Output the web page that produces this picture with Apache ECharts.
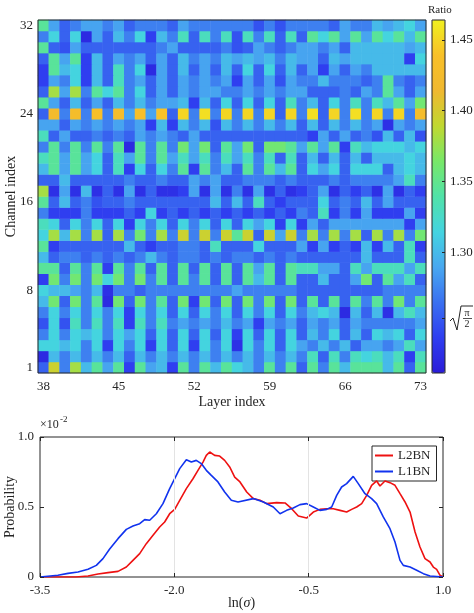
<!DOCTYPE html>
<html><head><meta charset="utf-8">
<script src="https://cdn.jsdelivr.net/npm/echarts@6/dist/echarts.min.js"></script>
<style>html,body{margin:0;padding:0;background:#fff}#c{width:474px;height:613px}</style>
</head><body><div id="c"></div>
<script>
// ---------- heatmap data ----------
const layers = ['38','39','40','41','42','43','44','45','46','47','48','49','50','51','52','53','54','55','56','57','58','59','60','61','62','63','64','65','66','67','68','69','70','71','72','73'];
const channels = ['1','2','3','4','5','6','7','8','9','10','11','12','13','14','15','16','17','18','19','20','21','22','23','24','25','26','27','28','29','30','31','32'];
const layerTickLabels = ['38','45','52','59','66','73'];
const channelTickLabels = ['1','8','16','24','32'];

const ch32 = [1.345,1.288,1.258,1.272,1.288,1.288,1.272,1.288,1.258,1.272,1.272,1.272,1.258,1.288,1.272,1.272,1.272,1.272,1.272,1.272,1.25,1.272,1.25,1.272,1.272,1.272,1.272,1.258,1.288,1.272,1.272,1.30,1.288,1.30,1.315,1.288];
const ch31 = [1.272,1.315,1.258,1.315,1.225,1.288,1.258,1.30,1.272,1.315,1.24,1.30,1.272,1.33,1.258,1.33,1.272,1.33,1.25,1.33,1.272,1.33,1.258,1.33,1.258,1.345,1.315,1.345,1.288,1.345,1.288,1.345,1.315,1.345,1.30,1.345];
const ch30 = [1.345,1.258,1.25,1.288,1.258,1.258,1.258,1.258,1.258,1.258,1.258,1.272,1.288,1.258,1.258,1.258,1.258,1.272,1.25,1.258,1.288,1.272,1.258,1.272,1.288,1.288,1.272,1.288,1.258,1.30,1.30,1.30,1.30,1.30,1.288,1.30];
const ch29 = [1.258,1.345,1.288,1.345,1.24,1.30,1.258,1.288,1.272,1.288,1.258,1.288,1.258,1.30,1.272,1.288,1.272,1.30,1.288,1.30,1.288,1.30,1.272,1.30,1.288,1.288,1.258,1.30,1.288,1.30,1.30,1.30,1.30,1.30,1.24,1.315];
const ch28 = [1.24,1.345,1.30,1.315,1.24,1.30,1.258,1.33,1.272,1.315,1.225,1.288,1.258,1.30,1.258,1.288,1.258,1.30,1.258,1.315,1.258,1.315,1.258,1.30,1.258,1.288,1.24,1.288,1.258,1.288,1.272,1.30,1.30,1.30,1.30,1.30];
const ch27 = [1.24,1.288,1.272,1.315,1.24,1.30,1.258,1.33,1.272,1.288,1.258,1.288,1.258,1.288,1.272,1.288,1.272,1.288,1.24,1.288,1.258,1.288,1.25,1.288,1.272,1.272,1.30,1.272,1.272,1.272,1.258,1.272,1.345,1.272,1.258,1.272];
const ch26 = [1.258,1.38,1.288,1.38,1.272,1.345,1.315,1.345,1.272,1.315,1.258,1.288,1.258,1.288,1.272,1.288,1.288,1.272,1.272,1.288,1.272,1.288,1.272,1.288,1.288,1.258,1.258,1.258,1.272,1.258,1.288,1.272,1.345,1.288,1.258,1.288];
const ch25 = [1.345,1.288,1.258,1.30,1.258,1.288,1.258,1.30,1.272,1.30,1.272,1.288,1.288,1.30,1.24,1.30,1.258,1.315,1.258,1.315,1.258,1.315,1.258,1.33,1.272,1.30,1.258,1.315,1.272,1.33,1.272,1.33,1.30,1.345,1.288,1.36];
const ch24 = [1.258,1.425,1.272,1.43,1.272,1.435,1.272,1.43,1.288,1.435,1.288,1.44,1.258,1.45,1.272,1.455,1.272,1.45,1.272,1.45,1.272,1.45,1.258,1.45,1.272,1.455,1.258,1.45,1.272,1.455,1.272,1.45,1.272,1.45,1.272,1.43];
const ch23 = [1.288,1.288,1.258,1.288,1.272,1.288,1.272,1.288,1.272,1.288,1.24,1.30,1.24,1.30,1.272,1.30,1.25,1.30,1.272,1.30,1.272,1.30,1.272,1.30,1.258,1.30,1.258,1.30,1.272,1.30,1.272,1.288,1.23,1.288,1.272,1.288];
const ch22 = [1.33,1.258,1.288,1.258,1.258,1.272,1.258,1.272,1.258,1.288,1.272,1.288,1.272,1.258,1.288,1.258,1.258,1.258,1.258,1.258,1.258,1.258,1.258,1.258,1.258,1.24,1.288,1.258,1.288,1.258,1.272,1.25,1.30,1.258,1.30,1.25];
const ch21 = [1.272,1.345,1.272,1.345,1.272,1.345,1.272,1.345,1.225,1.345,1.272,1.345,1.272,1.36,1.288,1.36,1.258,1.345,1.288,1.36,1.258,1.36,1.36,1.345,1.288,1.345,1.288,1.345,1.24,1.33,1.30,1.315,1.315,1.315,1.30,1.315];
const ch20 = [1.33,1.345,1.288,1.345,1.288,1.315,1.258,1.33,1.288,1.345,1.272,1.345,1.288,1.33,1.288,1.33,1.272,1.33,1.288,1.33,1.272,1.33,1.258,1.33,1.258,1.30,1.258,1.30,1.258,1.30,1.258,1.30,1.30,1.30,1.315,1.30];
const ch19 = [1.30,1.345,1.288,1.345,1.288,1.315,1.258,1.33,1.24,1.315,1.258,1.315,1.272,1.345,1.24,1.345,1.272,1.30,1.258,1.345,1.272,1.345,1.30,1.345,1.258,1.315,1.288,1.315,1.258,1.315,1.315,1.315,1.258,1.30,1.315,1.30];
const ch18 = [1.258,1.258,1.30,1.258,1.258,1.258,1.258,1.258,1.272,1.258,1.258,1.272,1.258,1.258,1.288,1.272,1.288,1.258,1.258,1.272,1.272,1.272,1.258,1.272,1.258,1.258,1.258,1.272,1.258,1.272,1.272,1.272,1.272,1.288,1.33,1.272];
const ch17 = [1.38,1.23,1.288,1.23,1.30,1.23,1.258,1.23,1.288,1.23,1.258,1.23,1.23,1.24,1.288,1.23,1.288,1.23,1.272,1.23,1.288,1.23,1.258,1.23,1.24,1.258,1.288,1.23,1.258,1.24,1.258,1.23,1.288,1.23,1.258,1.24];
const ch16 = [1.345,1.258,1.30,1.258,1.272,1.25,1.258,1.258,1.272,1.258,1.258,1.258,1.258,1.258,1.258,1.258,1.30,1.258,1.30,1.258,1.33,1.258,1.24,1.258,1.258,1.258,1.315,1.258,1.272,1.258,1.30,1.258,1.288,1.258,1.258,1.258];
const ch15 = [1.272,1.24,1.24,1.24,1.272,1.24,1.24,1.24,1.258,1.24,1.315,1.24,1.258,1.24,1.258,1.24,1.258,1.24,1.258,1.24,1.258,1.24,1.258,1.24,1.272,1.258,1.33,1.24,1.272,1.24,1.288,1.24,1.24,1.24,1.288,1.24];
const ch14 = [1.33,1.315,1.258,1.315,1.272,1.315,1.258,1.315,1.24,1.315,1.272,1.315,1.258,1.315,1.272,1.315,1.258,1.315,1.258,1.315,1.288,1.315,1.24,1.315,1.24,1.288,1.258,1.288,1.288,1.288,1.288,1.288,1.288,1.288,1.24,1.288];
const ch13 = [1.315,1.38,1.30,1.38,1.272,1.38,1.258,1.38,1.272,1.36,1.272,1.38,1.272,1.395,1.272,1.395,1.272,1.395,1.345,1.395,1.258,1.395,1.288,1.395,1.272,1.38,1.272,1.38,1.272,1.38,1.258,1.38,1.272,1.38,1.272,1.36];
const ch12 = [1.345,1.24,1.258,1.258,1.258,1.258,1.258,1.258,1.30,1.258,1.24,1.258,1.258,1.272,1.272,1.258,1.33,1.258,1.258,1.258,1.315,1.258,1.258,1.258,1.288,1.24,1.288,1.24,1.258,1.24,1.30,1.24,1.30,1.258,1.33,1.24];
const ch11 = [1.30,1.258,1.272,1.272,1.258,1.272,1.258,1.272,1.258,1.272,1.30,1.272,1.258,1.272,1.272,1.258,1.272,1.258,1.272,1.272,1.258,1.272,1.258,1.272,1.258,1.258,1.258,1.258,1.258,1.258,1.30,1.258,1.258,1.258,1.33,1.258];
const ch10 = [1.345,1.345,1.258,1.345,1.272,1.345,1.24,1.345,1.272,1.345,1.258,1.345,1.258,1.345,1.258,1.345,1.258,1.345,1.258,1.345,1.288,1.345,1.258,1.345,1.33,1.33,1.288,1.288,1.258,1.33,1.288,1.33,1.33,1.33,1.288,1.33];
const ch9 = [1.24,1.36,1.272,1.36,1.272,1.36,1.315,1.36,1.272,1.36,1.272,1.345,1.258,1.345,1.272,1.345,1.258,1.345,1.258,1.345,1.30,1.345,1.258,1.345,1.258,1.258,1.30,1.258,1.258,1.288,1.36,1.258,1.345,1.288,1.33,1.258];
const ch8 = [1.315,1.30,1.30,1.288,1.272,1.30,1.23,1.272,1.272,1.258,1.272,1.272,1.272,1.272,1.272,1.272,1.272,1.272,1.288,1.272,1.272,1.272,1.272,1.272,1.258,1.258,1.258,1.258,1.258,1.258,1.258,1.258,1.272,1.272,1.272,1.272];
const ch7 = [1.30,1.36,1.258,1.36,1.272,1.345,1.225,1.36,1.258,1.36,1.272,1.345,1.258,1.36,1.24,1.36,1.258,1.36,1.258,1.36,1.272,1.36,1.258,1.36,1.258,1.345,1.258,1.345,1.258,1.345,1.272,1.345,1.272,1.36,1.272,1.345];
const ch6 = [1.272,1.315,1.272,1.315,1.272,1.315,1.272,1.315,1.24,1.315,1.272,1.315,1.258,1.315,1.258,1.315,1.272,1.315,1.258,1.315,1.272,1.315,1.258,1.315,1.272,1.30,1.315,1.30,1.225,1.30,1.258,1.30,1.23,1.30,1.33,1.30];
const ch5 = [1.25,1.315,1.25,1.33,1.272,1.33,1.272,1.33,1.24,1.33,1.272,1.33,1.272,1.288,1.272,1.288,1.272,1.30,1.272,1.288,1.24,1.288,1.272,1.288,1.258,1.288,1.272,1.288,1.258,1.288,1.272,1.272,1.272,1.272,1.272,1.288];
const ch4 = [1.272,1.315,1.272,1.315,1.30,1.315,1.272,1.315,1.288,1.315,1.258,1.315,1.258,1.315,1.258,1.315,1.258,1.315,1.24,1.315,1.258,1.315,1.258,1.315,1.258,1.30,1.272,1.315,1.258,1.30,1.258,1.315,1.30,1.315,1.258,1.315];
const ch3 = [1.315,1.315,1.30,1.315,1.272,1.315,1.24,1.315,1.272,1.315,1.24,1.315,1.258,1.315,1.24,1.315,1.272,1.315,1.23,1.315,1.272,1.315,1.258,1.315,1.288,1.272,1.30,1.272,1.30,1.258,1.288,1.288,1.272,1.288,1.33,1.288];
const ch2 = [1.225,1.30,1.272,1.30,1.272,1.30,1.272,1.30,1.258,1.30,1.272,1.30,1.272,1.30,1.272,1.30,1.272,1.30,1.272,1.30,1.272,1.30,1.272,1.30,1.272,1.33,1.258,1.33,1.272,1.33,1.315,1.33,1.30,1.33,1.24,1.33];
const ch1 = [1.258,1.395,1.272,1.38,1.30,1.345,1.288,1.345,1.24,1.345,1.288,1.30,1.24,1.345,1.272,1.345,1.30,1.345,1.315,1.30,1.272,1.345,1.272,1.345,1.258,1.345,1.272,1.345,1.30,1.345,1.345,1.345,1.30,1.345,1.258,1.345];
const channelRows = [ch1,ch2,ch3,ch4,ch5,ch6,ch7,ch8,ch9,ch10,ch11,ch12,ch13,ch14,ch15,ch16,ch17,ch18,ch19,ch20,ch21,ch22,ch23,ch24,ch25,ch26,ch27,ch28,ch29,ch30,ch31,ch32];

const ratioMin = 1.215, ratioMax = 1.464;
const ratioTicks = [1.30, 1.35, 1.40, 1.45];
const sqrtHalfPi = 1.2533;

// ---------- distribution data ----------
const lnSigmaL2 = [-3.5,-3.1,-2.964,-2.852,-2.741,-2.629,-2.536,-2.462,-2.387,-2.313,-2.238,-2.164,-2.108,-2.052,-1.996,-1.940,-1.866,-1.792,-1.736,-1.680,-1.643,-1.605,-1.550,-1.494,-1.438,-1.382,-1.326,-1.267,-1.192,-1.118,-1.043,-0.969,-0.857,-0.764,-0.690,-0.616,-0.523,-0.448,-0.374,-0.299,-0.225,-0.150,-0.076,-0.020,0.036,0.092,0.148,0.203,0.259,0.296,0.352,0.408,0.464,0.520,0.576,0.632,0.688,0.743,0.799,0.855,0.892,0.929,0.967,0.985,1.0];
const probL2 = [0,0,0.007,0.021,0.031,0.04,0.071,0.119,0.167,0.238,0.298,0.357,0.393,0.452,0.483,0.548,0.631,0.702,0.762,0.821,0.869,0.893,0.869,0.864,0.833,0.786,0.714,0.679,0.607,0.56,0.548,0.524,0.531,0.529,0.488,0.436,0.421,0.464,0.483,0.488,0.488,0.476,0.464,0.483,0.50,0.524,0.583,0.655,0.686,0.65,0.686,0.674,0.655,0.595,0.536,0.464,0.321,0.214,0.131,0.107,0.071,0.055,0.012,0,0];
const lnSigmaL1 = [-3.5,-3.30,-3.187,-3.076,-2.964,-2.871,-2.797,-2.722,-2.629,-2.536,-2.462,-2.387,-2.331,-2.275,-2.201,-2.127,-2.052,-1.996,-1.940,-1.866,-1.810,-1.755,-1.699,-1.643,-1.587,-1.513,-1.438,-1.364,-1.289,-1.267,-1.118,-1.006,-0.895,-0.820,-0.746,-0.672,-0.597,-0.523,-0.448,-0.374,-0.299,-0.243,-0.187,-0.132,-0.076,-0.002,0.054,0.129,0.203,0.259,0.333,0.408,0.464,0.520,0.557,0.632,0.706,0.781,0.855,1.0];
const probL1 = [0,0.012,0.026,0.036,0.055,0.083,0.131,0.20,0.274,0.34,0.364,0.381,0.41,0.405,0.452,0.524,0.631,0.702,0.774,0.838,0.821,0.833,0.81,0.762,0.726,0.679,0.607,0.548,0.536,0.54,0.56,0.536,0.50,0.452,0.476,0.493,0.517,0.524,0.50,0.476,0.483,0.50,0.583,0.643,0.667,0.719,0.667,0.595,0.56,0.524,0.429,0.345,0.25,0.119,0.083,0.071,0.048,0.024,0.007,0];
const lnSigmaTicks = [-3.5, -2.0, -0.5, 1.0];
const lnSigmaGrid = [-2.0, -0.5];

// ---------- build ----------
const heatData = [];
channelRows.forEach((row, r) => row.forEach((v, c) => heatData.push([c, r, v])));
const pairs = (xs, ys) => xs.map((x, i) => [x, ys[i]]);

const FONT = 'Liberation Serif';
const AX = '#262626';
const tickStyle = {color: AX, fontFamily: FONT};
const noLine = {show: false, onZero: false};

const chart = echarts.init(document.getElementById('c'));
chart.setOption({
  animation: false,
  backgroundColor: '#fff',
  textStyle: {fontFamily: FONT},
  grid: [
    {left: 38, top: 20, width: 388, height: 353, show: true, borderColor: AX, borderWidth: 1, backgroundColor: 'transparent', z: 3, outerBoundsMode: 'none', containLabel: false},
    {left: 432, top: 20, width: 13, height: 353, show: true, borderColor: AX, borderWidth: 1, backgroundColor: 'transparent', z: 6, outerBoundsMode: 'none', containLabel: false},
    {left: 40, top: 437, width: 403, height: 140, show: true, borderColor: AX, borderWidth: 1, backgroundColor: 'transparent', z: 3, outerBoundsMode: 'none', containLabel: false}
  ],
  xAxis: [
    {gridIndex: 0, type: 'category', data: layers, position: 'bottom', z: 5,
     axisLine: noLine,
     axisTick: {inside: true, length: 3, alignWithLabel: true, lineStyle: {color: AX}, interval: (i, v) => layerTickLabels.includes(v)},
     axisLabel: {...tickStyle, fontSize: 13, margin: 7, interval: (i, v) => layerTickLabels.includes(v)},
     name: 'Layer index', nameLocation: 'middle', nameGap: 22, nameMoveOverlap: false, nameTextStyle: {color: AX, fontFamily: FONT, fontSize: 14}},
    {gridIndex: 0, type: 'category', data: layers, position: 'top', z: 5,
     axisLine: noLine, axisLabel: {show: false},
     axisTick: {inside: true, length: 3, alignWithLabel: true, lineStyle: {color: AX}, interval: (i, v) => layerTickLabels.includes(v)}},
    {gridIndex: 1, type: 'value', show: false, min: 0, max: 1, axisLine: noLine},
    {gridIndex: 2, type: 'value', min: -3.5, max: 1.0, position: 'bottom', z: 5,
     axisLine: noLine, splitLine: {show: false},
     axisTick: {inside: true, length: 4, customValues: lnSigmaTicks, lineStyle: {color: AX}},
     axisLabel: {...tickStyle, fontSize: 13, margin: 7, customValues: lnSigmaTicks, formatter: v => v.toFixed(1)},
     name: 'ln({i|σ})', nameLocation: 'middle', nameGap: 19, nameMoveOverlap: false,
     nameTextStyle: {color: AX, fontFamily: FONT, fontSize: 14, rich: {i: {fontStyle: 'italic', fontFamily: FONT, fontSize: 14, color: AX}}}},
    {gridIndex: 2, type: 'value', min: -3.5, max: 1.0, position: 'top', z: 5,
     axisLine: noLine, splitLine: {show: false}, axisLabel: {show: false},
     axisTick: {inside: true, length: 4, customValues: lnSigmaTicks, lineStyle: {color: AX}}}
  ],
  yAxis: [
    {gridIndex: 0, type: 'category', data: channels, position: 'left', z: 5,
     axisLine: noLine,
     axisTick: {inside: true, length: 3, alignWithLabel: true, lineStyle: {color: AX}, interval: (i, v) => channelTickLabels.includes(v)},
     axisLabel: {...tickStyle, fontSize: 13, margin: 5, interval: (i, v) => channelTickLabels.includes(v)},
     name: 'Channel index', nameLocation: 'middle', nameGap: 20, nameMoveOverlap: false, nameTextStyle: {color: AX, fontFamily: FONT, fontSize: 14}},
    {gridIndex: 0, type: 'category', data: channels, position: 'right', z: 5,
     axisLine: noLine, axisLabel: {show: false},
     axisTick: {inside: true, length: 3, alignWithLabel: true, lineStyle: {color: AX}, interval: (i, v) => channelTickLabels.includes(v)}},
    {gridIndex: 1, type: 'value', min: ratioMin, max: ratioMax, position: 'right', z: 10,
     axisLine: noLine, splitLine: {show: false},
     axisTick: {inside: true, length: 3, customValues: [sqrtHalfPi].concat(ratioTicks), lineStyle: {color: AX}},
     axisLabel: {...tickStyle, fontSize: 13, margin: 5, customValues: ratioTicks, formatter: v => v.toFixed(2)}},
    {gridIndex: 2, type: 'value', min: 0, max: 1, interval: 0.5, position: 'left', z: 5,
     axisLine: noLine, splitLine: {show: false},
     axisTick: {inside: true, length: 4, lineStyle: {color: AX}},
     axisLabel: {...tickStyle, fontSize: 13, margin: 6, formatter: v => v === 0 ? '0' : v.toFixed(1)},
     name: 'Probability', nameLocation: 'middle', nameGap: 23, nameMoveOverlap: false, nameTextStyle: {color: AX, fontFamily: FONT, fontSize: 14}},
    {gridIndex: 2, type: 'value', min: 0, max: 1, interval: 0.5, position: 'right', z: 5,
     axisLine: noLine, splitLine: {show: false}, axisLabel: {show: false},
     axisTick: {inside: true, length: 4, lineStyle: {color: AX}}}
  ],
  visualMap: {
    type: 'continuous', seriesIndex: 0, min: ratioMin, max: ratioMax,
    left: 432, top: 20, itemWidth: 13, itemHeight: 353, padding: 0,
    calculable: false, hoverLink: false, realtime: false,
    inRange: {color: ['#2a1cd8','#2f3ef0','#3a70f0','#48a8f0','#44d4e0','#50e2a8','#78e868','#c0d830','#f0b830','#f8c028','#f0f020']}
  },
  legend: {
    data: ['L2BN', 'L1BN'], orient: 'vertical', left: 372, top: 446,
    icon: 'rect', itemWidth: 18, itemHeight: 2, itemGap: 3,
    padding: [3, 6, 3, 3], borderColor: AX, borderWidth: 1, backgroundColor: '#fff',
    textStyle: {color: AX, fontFamily: FONT, fontSize: 13}
  },
  graphic: [
    {type: 'text', left: 428, top: 5, style: {text: 'Ratio', fontFamily: FONT, fontSize: 11, fill: AX}},
    {type: 'polyline', shape: {points: [[450, 321], [453, 318], [457, 330], [461, 306], [473, 306]]}, style: {stroke: AX, lineWidth: 1, fill: null}},
    {type: 'text', x: 467, y: 313, style: {text: 'π', fontFamily: FONT, fontSize: 10, fill: AX, align: 'center', verticalAlign: 'middle'}},
    {type: 'line', shape: {x1: 463, y1: 318.5, x2: 472, y2: 318.5}, style: {stroke: AX, lineWidth: 0.8}},
    {type: 'text', x: 467, y: 324, style: {text: '2', fontFamily: FONT, fontSize: 10, fill: AX, align: 'center', verticalAlign: 'middle'}},
    {type: 'text', left: 40, top: 419, style: {text: '×10', fontFamily: FONT, fontSize: 12, fill: AX}},
    {type: 'text', left: 60, top: 415, style: {text: '-2', fontFamily: FONT, fontSize: 9, fill: AX}}
  ],
  series: [
    {type: 'heatmap', xAxisIndex: 0, yAxisIndex: 0, data: heatData, silent: true,
     itemStyle: {borderWidth: 0}, emphasis: {disabled: true}, progressive: 0},
    {type: 'line', name: 'L2BN', xAxisIndex: 3, yAxisIndex: 3, data: pairs(lnSigmaL2, probL2),
     showSymbol: false, symbol: 'none', color: '#ee1111', lineStyle: {color: '#ee1111', width: 1.6}, z: 4,
     markLine: {silent: true, symbol: 'none', label: {show: false}, animation: false,
       lineStyle: {color: '#e3e3e3', width: 1, type: 'solid'}, data: lnSigmaGrid.map(v => ({xAxis: v}))}},
    {type: 'line', name: 'L1BN', xAxisIndex: 3, yAxisIndex: 3, data: pairs(lnSigmaL1, probL1),
     showSymbol: false, symbol: 'none', color: '#1133ee', lineStyle: {color: '#1133ee', width: 1.6}, z: 4}
  ]
});
</script></body></html>
